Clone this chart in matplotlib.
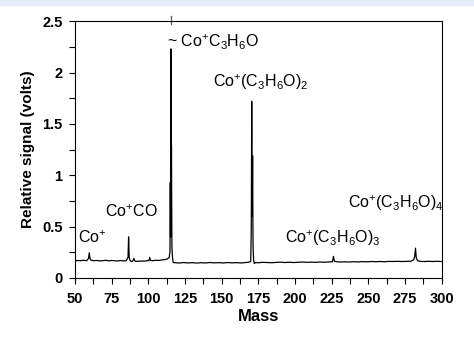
import matplotlib
matplotlib.use("Agg")
import matplotlib.pyplot as plt
from matplotlib.ticker import MultipleLocator

# spectrum (mass, signal in volts)
mass = [50, 52, 54, 56, 58, 59.3, 59.8, 60.3, 61, 63, 65, 67, 69, 71, 73, 75, 77, 79, 81,
        83, 85, 86.2, 86.6, 87.0, 87.6, 88.5, 89.5, 90.2, 91, 93, 95, 97, 99, 100.5, 101, 101.5,
        103, 105, 107, 109, 111, 113, 114.3, 114.8, 115.0, 115.2, 115.4, 115.6, 115.8, 116.1,
        116.5, 117, 119, 121, 124, 127, 130, 133, 136, 139, 142, 145, 148, 151, 154, 157, 160,
        163, 166, 168, 169.8, 170.2, 170.5, 170.8, 171.1, 171.4, 171.8, 172.3, 173, 175, 178,
        181, 184, 187, 190, 193, 196, 199, 202, 205, 208, 211, 214, 217, 220, 223, 225.5, 226.2,
        226.8, 228, 231, 234, 237, 240, 243, 246, 249, 252, 255, 258, 261, 264, 267, 270, 273,
        276, 279, 280.8, 281.6, 282.1, 282.6, 283.4, 285, 288, 291, 294, 297, 300]
signal = [0.165, 0.17, 0.168, 0.172, 0.168, 0.19, 0.245, 0.19, 0.172, 0.168, 0.17, 0.166, 0.168,
          0.172, 0.166, 0.17, 0.168, 0.165, 0.17, 0.166, 0.168, 0.2, 0.40, 0.2, 0.17, 0.16,
          0.165, 0.19, 0.163, 0.162, 0.165, 0.163, 0.167, 0.17, 0.2, 0.17, 0.168, 0.172, 0.17,
          0.175, 0.178, 0.185, 0.2, 0.26, 0.93, 0.4, 2.23, 0.5, 1.29, 0.3, 0.2, 0.15, 0.148,
          0.145, 0.15, 0.146, 0.149, 0.145, 0.148, 0.146, 0.15, 0.147, 0.149, 0.146, 0.15,
          0.147, 0.149, 0.146, 0.15, 0.152, 0.16, 0.48, 1.72, 0.6, 1.19, 0.3, 0.17, 0.14, 0.15,
          0.148, 0.152, 0.15, 0.148, 0.151, 0.154, 0.15, 0.153, 0.15, 0.152, 0.155, 0.152,
          0.154, 0.152, 0.155, 0.153, 0.156, 0.158, 0.21, 0.165, 0.158, 0.155, 0.157, 0.155,
          0.158, 0.156, 0.159, 0.157, 0.16, 0.158, 0.16, 0.158, 0.161, 0.16, 0.162, 0.16,
          0.162, 0.163, 0.175, 0.21, 0.29, 0.2, 0.17, 0.162, 0.16, 0.162, 0.16, 0.162, 0.16]

labels = ["Co$^{+}$", "Co$^{+}$CO", "~ Co$^{+}$C$_3$H$_6$O", "Co$^{+}$(C$_3$H$_6$O)$_2$",
          "Co$^{+}$(C$_3$H$_6$O)$_3$", "Co$^{+}$(C$_3$H$_6$O)$_4$"]
label_x = [52, 70.5, 112.6, 144, 193.5, 235.8]
label_y = [0.34, 0.59, 2.25, 1.86, 0.34, 0.68]

plt.rcParams['font.family'] = ['Liberation Sans', 'DejaVu Sans']
plt.rcParams['mathtext.fontset'] = 'custom'
plt.rcParams['mathtext.rm'] = 'Liberation Sans'
plt.rcParams['mathtext.it'] = 'Liberation Sans'

fig = plt.figure(figsize=(4.74, 3.47), dpi=100)
# light strip at the top of the page
fig.patches.append(plt.Rectangle((0, 0.985), 1, 0.015, transform=fig.transFigure,
                                 color="#e6eff7", zorder=0))
ax = fig.add_axes([0.158, 0.199, 0.774, 0.74])

ax.plot(mass, signal, color="black", lw=0.9)
# off-scale mark above the frame for the big peak
ax.plot([115.4, 115.4], [2.47, 2.55], color="#555555", lw=0.9, clip_on=False)

for t, x, y in zip(labels, label_x, label_y):
    ax.text(x, y, t, fontsize=11.5, ha="left", va="baseline")

ax.set_xlim(50, 300)
ax.set_ylim(0, 2.5)
ax.xaxis.set_major_locator(MultipleLocator(25))
ax.xaxis.set_minor_locator(MultipleLocator(12.5))
ax.yaxis.set_major_locator(MultipleLocator(0.5))
ax.yaxis.set_minor_locator(MultipleLocator(0.25))
ax.set_yticks([0, 0.5, 1, 1.5, 2, 2.5])
ax.set_yticklabels(["0", "0.5", "1", "1.5", "2", "2.5"])
ax.tick_params(which="both", direction="out", length=4, width=0.8, labelsize=10.5)
ax.tick_params(axis="x", pad=6)
ax.tick_params(axis="y", pad=5)
for lab in ax.get_xticklabels() + ax.get_yticklabels():
    lab.set_fontweight("bold")
for s in ax.spines.values():
    s.set_linewidth(0.8)

ax.set_xlabel("Mass", fontsize=12, fontweight="bold", labelpad=2)
ax.set_ylabel("Relative signal (volts)", fontsize=11, fontweight="bold", labelpad=5)

fig.savefig("out.png", dpi=100)
